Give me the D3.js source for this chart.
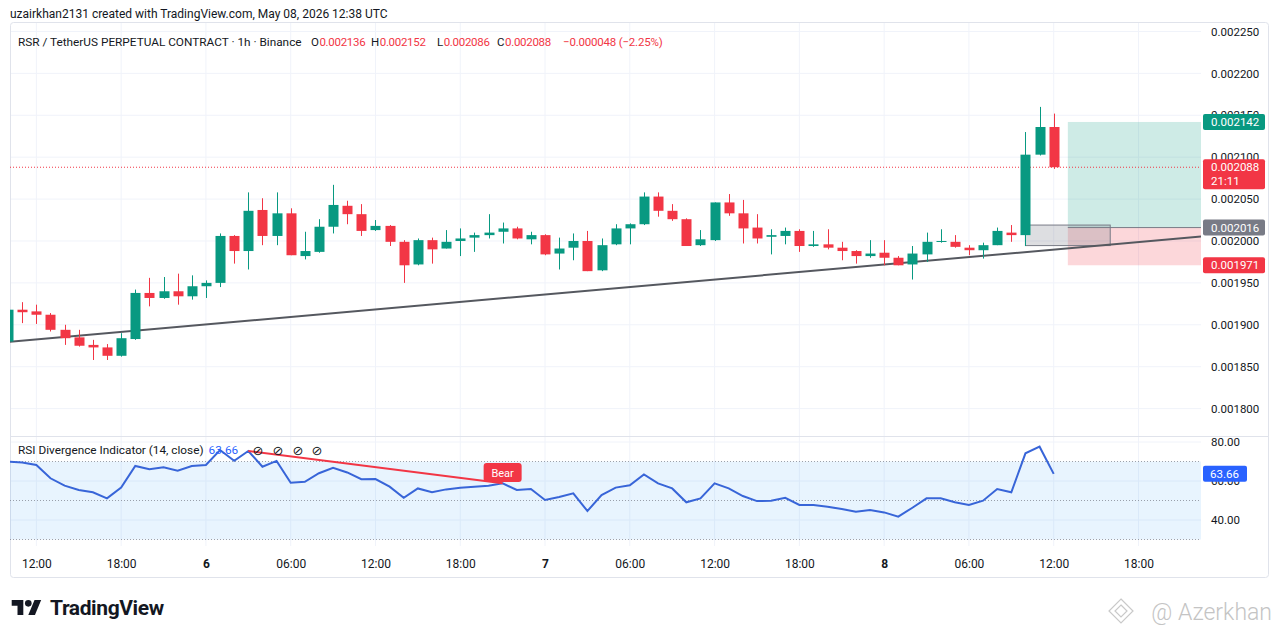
<!DOCTYPE html>
<html lang="en">
<head>
<meta charset="UTF-8">
<title>RSR / TetherUS PERPETUAL CONTRACT 1h</title>
<script src="https://d3js.org/d3.v7.min.js"></script>
<style>
  body { margin: 0; background: #fff; font-family: Roboto, "Noto Sans", sans-serif; }
  svg { display: block; }
  text { fill: #131722; font-size: 12px; }
</style>
</head>
<body>
<div id="chart"></div>
<script>
// first visible candle: 5 May 2026 10:00 UTC, one candle per hour
const startTime = Date.UTC(2026, 4, 5, 10);

// OHLC in units of 0.000001 USDT
const opens  = [1880,1918,1916,1912,1894,1885,1876,1873,1863,1883,1938,1932,1940,1934,1946,1950,2006,1988,2037,2006,
                2033,1982,1987,2017,2042,2032,2013,2018,1999,1972,2001,1991,2000,2004,2007,2011,2015,2002,2007,1985,
                1992,2000,1965,1996,2015,2020,2053,2036,2026,1995,2001,2046,2033,2016,2005,2006,2012,1994,1996,1992,
                1988,1982,1986,1980,1972,1984,1999,1999,1992,1989,1995,2010,2007,2103,2136];
const highs  = [1920,1927,1924,1914,1900,1894,1882,1877,1890,1942,1956,1957,1961,1959,1953,2009,2007,2058,2051,2058,
                2039,2011,2026,2067,2048,2044,2025,2019,2001,2003,2004,2013,2015,2010,2032,2022,2017,2011,2008,2004,
                2009,2012,2003,2020,2021,2058,2058,2044,2027,2013,2046,2056,2049,2032,2014,2016,2014,2012,2014,1999,
                1989,2001,2001,1982,1994,2010,2014,2007,1995,1998,2016,2019,2130,2160,2152];
const lows   = [1878,1902,1901,1892,1876,1874,1858,1858,1862,1882,1922,1931,1924,1930,1932,1945,1973,1966,1995,1995,
                1983,1978,1986,2009,2020,2006,2012,1994,1950,1971,1973,1991,1982,1987,2003,1997,2002,1996,1983,1966,
                1977,1964,1964,1995,1996,2019,2029,2024,1994,1994,2000,2030,1997,1997,1984,1996,1987,1993,1990,1977,
                1973,1980,1971,1971,1954,1975,1998,1992,1983,1979,1995,1999,1994,2102,2086];
const closes = [1918,1915,1912,1894,1884,1875,1873,1863,1884,1938,1932,1940,1934,1946,1950,2006,1988,2036,2006,2033,
                1983,1988,2017,2043,2032,2012,2018,1999,1971,2001,1990,1999,2003,2007,2010,2015,2003,2007,1984,1991,
                2000,1964,1995,2015,2020,2053,2036,2026,1994,2002,2046,2033,2015,2003,2007,2012,1994,1996,1992,1988,
                1982,1985,1980,1971,1985,1999,2000,1993,1989,1995,2012,2007,2103,2136,2088];

const rsiValues = [70.0,69.5,68.2,61.4,57.6,55.4,54.2,51.1,56.6,67.7,66.0,67.0,65.3,67.7,68.2,75.9,70.4,75.4,67.3,70.3,
                   59.1,59.6,64.0,66.8,64.4,60.9,61.0,57.1,51.4,56.2,54.2,55.7,56.6,57.1,57.6,58.8,55.4,55.9,50.3,51.8,
                   53.7,44.6,52.8,56.6,57.8,63.4,58.8,56.2,49.1,51.1,58.8,56.2,52.3,49.7,49.9,51.4,47.7,47.7,46.8,45.6,
                   44.3,45.1,43.9,41.7,46.3,51.1,51.1,49.1,47.7,49.9,55.9,54.2,74.2,77.6,63.66];

const priceTicks = [1800,1850,1900,1950,2000,2050,2100,2150,2200,2250];
const rsiTicks = [80, 60, 40];
const rsiBands = [70, 50, 30];

// time axis ticks: [day, hour, label, bold]
const timeTicks = [[5,12,"12:00",false],[5,18,"18:00",false],[6,0,"6",true],[6,6,"06:00",false],[6,12,"12:00",false],
                   [6,18,"18:00",false],[7,0,"7",true],[7,6,"06:00",false],[7,12,"12:00",false],[7,18,"18:00",false],
                   [8,0,"8",true],[8,6,"06:00",false],[8,12,"12:00",false],[8,18,"18:00",false]];

// drawings: trend line anchors [candle index, price], long position, grey box, divergence
const trendAnchors = [[0, 1879.6], [84, 2004]];
const position = { from: 75, entry: 2016, target: 2142, stop: 1971 };
const greyBox = { from: 72, to: 78, top: 2019, bottom: 1994.5 };
const bearDiv = [17, 35];

const GREEN = "#089981", RED = "#f23645", GREY = "#787b86", BLUE = "#2962ff", RSI_LINE = "#3865d8";
const W = 1280, H = 638;
const paneL = 10, paneR = 1201, frameR = 1268;
const priceTop = 22, priceBottom = 436, rsiBottom = 546, frameBottom = 577;
const fmtP = v => (v / 1e6).toFixed(6);

const svg = d3.select("#chart").append("svg").attr("width", W).attr("height", H);

const times = opens.map((d, i) => d3.utcHour.offset(new Date(startTime), i));
const x = d3.scaleUtc().domain([times[0], times[times.length - 1]]).range([8.1, 1053.7]);
const xi = i => x(d3.utcHour.offset(new Date(startTime), i));
const y = d3.scaleLinear().domain([1767.3, 2261.3]).range([priceBottom, priceTop]);
const yr = d3.scaleLinear().domain([26.67, 83.08]).range([rsiBottom, priceBottom]);

svg.append("clipPath").attr("id", "pclip").append("rect")
  .attr("x", paneL).attr("y", priceTop).attr("width", paneR - paneL).attr("height", priceBottom - priceTop);
svg.append("clipPath").attr("id", "rclip").append("rect")
  .attr("x", paneL).attr("y", priceBottom).attr("width", paneR - paneL).attr("height", rsiBottom - priceBottom);

// header
svg.append("text").attr("x", 10).attr("y", 18).style("font-size", "12px")
  .text("uzairkhan2131 created with TradingView.com, May 08, 2026 12:38 UTC");

// grid
const tickDates = timeTicks.map(t => new Date(Date.UTC(2026, 4, t[0], t[1])));
svg.append("g").selectAll("line").data(tickDates).join("line")
  .attr("x1", d => x(d)).attr("x2", d => x(d)).attr("y1", priceTop).attr("y2", rsiBottom)
  .attr("stroke", "#f0f3fa");
svg.append("g").selectAll("line").data(priceTicks).join("line")
  .attr("x1", paneL).attr("x2", paneR).attr("y1", d => y(d)).attr("y2", d => y(d))
  .attr("stroke", "#f0f3fa");
svg.append("g").selectAll("line").data(rsiTicks).join("line")
  .attr("x1", paneL).attr("x2", paneR).attr("y1", d => yr(d)).attr("y2", d => yr(d))
  .attr("stroke", "#f0f3fa");

// frame
svg.append("rect").attr("x", paneL + 0.5).attr("y", priceTop + 0.5)
  .attr("width", frameR - paneL).attr("height", frameBottom - priceTop)
  .attr("rx", 3).attr("fill", "none").attr("stroke", "#e0e3eb");
svg.append("line").attr("x1", paneL).attr("x2", frameR).attr("y1", priceBottom + 0.5).attr("y2", priceBottom + 0.5)
  .attr("stroke", "#e0e3eb");

// legend
const legend = svg.append("text").attr("x", 18).attr("y", 46).style("font-size", "11.8px");
legend.append("tspan").text("RSR / TetherUS PERPETUAL CONTRACT · 1h · Binance");
const ohlc = [["O", 311, fmtP(opens[74])], ["H", 371, fmtP(highs[74])], ["L", 437, fmtP(lows[74])], ["C", 497, fmtP(closes[74])]];
ohlc.forEach(([k, px, v]) => {
  const t = svg.append("text").attr("x", px).attr("y", 46).style("font-size", "11.5px");
  t.append("tspan").text(k);
  t.append("tspan").attr("dx", 0.5).style("fill", RED).style("letter-spacing", "-0.3px").text(v);
});
svg.append("text").attr("x", 563).attr("y", 46).style("fill", RED).style("font-size", "11.5px")
  .style("letter-spacing", "-0.2px")
  .text("\u2212" + fmtP(opens[74] - closes[74]) + " (\u2212" + ((opens[74] - closes[74]) / opens[74] * 100).toFixed(2) + "%)");

// price pane drawings
const pg = svg.append("g").attr("clip-path", "url(#pclip)");

pg.append("rect").attr("x", xi(position.from)).attr("width", paneR - xi(position.from))
  .attr("y", y(position.target)).attr("height", y(position.entry) - y(position.target))
  .attr("fill", GREEN).attr("fill-opacity", 0.2);
pg.append("rect").attr("x", xi(position.from)).attr("width", paneR - xi(position.from))
  .attr("y", y(position.entry)).attr("height", y(position.stop) - y(position.entry))
  .attr("fill", RED).attr("fill-opacity", 0.2);
pg.append("rect").attr("x", xi(greyBox.from)).attr("width", xi(greyBox.to) - xi(greyBox.from))
  .attr("y", y(greyBox.top)).attr("height", y(greyBox.bottom) - y(greyBox.top))
  .attr("fill", GREY).attr("fill-opacity", 0.25).attr("stroke", GREY).attr("stroke-width", 1);
pg.append("line").attr("x1", xi(position.from)).attr("x2", paneR)
  .attr("y1", y(position.entry)).attr("y2", y(position.entry)).attr("stroke", GREY);

// trend line extended to the right edge
const [a, b] = trendAnchors;
const slope = (b[1] - a[1]) / (b[0] - a[0]);
const endIdx = (paneR - 8.1) / 14.13 + 1;
pg.append("line")
  .attr("x1", xi(a[0] - 1)).attr("y1", y(a[1] - slope))
  .attr("x2", xi(endIdx)).attr("y2", y(a[1] + slope * endIdx))
  .attr("stroke", "#55585f").attr("stroke-width", 2);

// last price dotted line
pg.append("line").attr("x1", paneL).attr("x2", paneR)
  .attr("y1", y(closes[74])).attr("y2", y(closes[74]))
  .attr("stroke", RED).attr("stroke-dasharray", "1,2");

// candles
const candles = pg.append("g").selectAll("g").data(opens.map((o, i) => i)).join("g");
const col = i => closes[i] >= opens[i] ? GREEN : RED;
candles.append("line")
  .attr("x1", i => Math.round(xi(i)) + 0.5).attr("x2", i => Math.round(xi(i)) + 0.5)
  .attr("y1", i => y(highs[i])).attr("y2", i => y(lows[i]))
  .attr("stroke", col);
candles.append("rect")
  .attr("x", i => Math.round(xi(i)) - 4.5).attr("width", 10)
  .attr("y", i => y(Math.max(opens[i], closes[i])))
  .attr("height", i => Math.max(1, Math.abs(y(opens[i]) - y(closes[i]))))
  .attr("fill", col);

// price axis
const axisFont = "11.5px";
const yAxis = svg.append("g").attr("transform", `translate(${paneR + 8},0)`)
  .call(d3.axisRight(y).tickValues(priceTicks).tickFormat(fmtP).tickSize(0));
yAxis.select(".domain").remove();
yAxis.selectAll("text").attr("x", 2).style("font-size", axisFont).style("font-family", "Roboto, sans-serif").attr("fill", "#131722");

// price labels on the axis
function axisLabel(val, fill, lines) {
  const h = lines.length > 1 ? 30 : 16;
  const top = y(val) - 8;
  svg.append("rect").attr("x", paneR + 2).attr("y", top).attr("width", 62).attr("height", h)
    .attr("rx", 2).attr("fill", fill);
  lines.forEach((s, k) => {
    svg.append("text").attr("x", paneR + 10).attr("y", top + 12 + k * 14)
      .style("font-size", axisFont).style("fill", "#fff").text(s);
  });
}
axisLabel(position.target, GREEN, [fmtP(position.target)]);
axisLabel(closes[74], RED, [fmtP(closes[74]), "21:11"]);
axisLabel(position.entry, GREY, [fmtP(position.entry)]);
axisLabel(position.stop, RED, [fmtP(position.stop)]);

// RSI pane
const rg = svg.append("g").attr("clip-path", "url(#rclip)");
rg.append("rect").attr("x", paneL).attr("width", paneR - paneL)
  .attr("y", yr(rsiBands[0])).attr("height", yr(rsiBands[2]) - yr(rsiBands[0]))
  .attr("fill", "rgba(33,150,243,0.1)");
rg.selectAll(".band").data(rsiBands).join("line")
  .attr("x1", paneL).attr("x2", paneR).attr("y1", d => yr(d)).attr("y2", d => yr(d))
  .attr("stroke", GREY).attr("stroke-opacity", 0.7).attr("stroke-dasharray", "1,2");

const rl = svg.append("text").attr("x", 18).attr("y", 454).style("font-size", "11.8px");
rl.append("tspan").text("RSI Divergence Indicator (14, close)");
rl.append("tspan").attr("dx", 5).style("fill", BLUE).text(rsiValues[74].toFixed(2));
[258, 278, 298, 317].forEach(px => {
  svg.append("text").attr("x", px).attr("y", 454.5).attr("text-anchor", "middle")
    .style("font-family", "DejaVu Sans").style("font-size", "13px").text("\u2298");
});

rg.append("path").datum(rsiValues)
  .attr("d", d3.line().x((d, i) => xi(i)).y(d => yr(d)))
  .attr("fill", "none").attr("stroke", RSI_LINE).attr("stroke-width", 2);

rg.append("line")
  .attr("x1", xi(bearDiv[0])).attr("y1", yr(rsiValues[bearDiv[0]]))
  .attr("x2", xi(bearDiv[1])).attr("y2", yr(rsiValues[bearDiv[1]]))
  .attr("stroke", RED).attr("stroke-width", 2);
const bx = xi(bearDiv[1]);
svg.append("rect").attr("x", bx - 19).attr("y", 463).attr("width", 38).attr("height", 19)
  .attr("rx", 3).attr("fill", RED);
svg.append("text").attr("x", bx).attr("y", 476.5).attr("text-anchor", "middle")
  .style("fill", "#fff").style("font-size", "11px").text("Bear");

// RSI axis
const rAxis = svg.append("g").attr("transform", `translate(${paneR + 8},0)`)
  .call(d3.axisRight(yr).tickValues(rsiTicks).tickFormat(d3.format(".2f")).tickSize(0));
rAxis.select(".domain").remove();
rAxis.selectAll("text").attr("x", 2).style("font-size", axisFont).style("font-family", "Roboto, sans-serif").attr("fill", "#131722");
svg.append("rect").attr("x", paneR + 2).attr("y", yr(rsiValues[74]) - 8).attr("width", 44).attr("height", 16)
  .attr("rx", 2).attr("fill", BLUE);
svg.append("text").attr("x", paneR + 9).attr("y", yr(rsiValues[74]) + 4)
  .style("font-size", axisFont).style("fill", "#fff").text(rsiValues[74].toFixed(2));

// time axis
const xAxis = svg.append("g").attr("transform", `translate(0,${rsiBottom + 10})`)
  .call(d3.axisBottom(x).tickValues(tickDates).tickFormat((d, i) => timeTicks[i][2]).tickSize(0));
xAxis.select(".domain").remove();
xAxis.selectAll("text").style("font-size", "12px").style("font-family", "Roboto, sans-serif")
  .attr("fill", "#131722").style("font-weight", (d, i) => timeTicks[i][3] ? "bold" : "normal");

// footer: TradingView logo and watermark
const logo = svg.append("g").attr("transform", "translate(11.7,596.7) scale(0.83)");
logo.append("path").attr("d", "M14 22H7V11H0V4h14v18z").attr("fill", "#131722");
logo.append("path").attr("d", "M28 22h-8l7.5-18h8L28 22z").attr("fill", "#131722");
logo.append("circle").attr("cx", 20).attr("cy", 8).attr("r", 4).attr("fill", "#131722");
svg.append("text").attr("x", 50).attr("y", 615).style("font-size", "21px").style("font-weight", "bold")
  .style("letter-spacing", "-0.4px").text("TradingView");

const wm = svg.append("g").attr("transform", "translate(1121,611)").attr("fill", "none").attr("stroke", "#c9c9c9").attr("stroke-width", 1.2);
wm.append("path").attr("d", "M0,-12 L12,0 L0,12 L-12,0 Z");
wm.append("path").attr("d", "M0,-6 L6,0 L0,6 L-6,0 Z");
svg.append("text").attr("x", 1272).attr("y", 620).attr("text-anchor", "end")
  .style("font-size", "23px").style("font-weight", "300").style("fill", "#c4c4c4").text("@ Azerkhan");
</script>
</body>
</html>
